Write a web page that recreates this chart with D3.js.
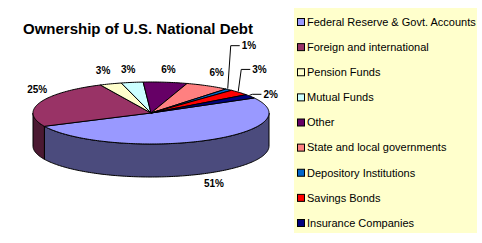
<!DOCTYPE html>
<html>
<head>
<meta charset="utf-8">
<script src="https://cdn.jsdelivr.net/npm/d3@7"></script>
<style>
  body { margin: 0; background: #ffffff; }
  text { font-family: Arial, "Liberation Sans", sans-serif; }
</style>
</head>
<body>
<div id="chart"></div>
<script>
// Ownership of U.S. National Debt - 3D pie like the Excel original

var categories = ["Federal Reserve & Govt. Accounts", "Foreign and international", "Pension Funds",
    "Mutual Funds", "Other", "State and local governments", "Depository Institutions",
    "Savings Bonds", "Insurance Companies"];
var shares = [51, 25, 3, 3, 6, 6, 1, 3, 2];
var colors = ["#9999FF", "#993366", "#FFFFCC", "#CCFFFF", "#660066", "#FF8080", "#0066CC", "#FF0000", "#000080"];

var svgWidth = 482;
var svgHeight = 243;

var svg = d3.select("#chart")
    .append("svg")
    .attr("width", svgWidth)
    .attr("height", svgHeight);

// pie geometry
var cx = 151, cy = 113, rx = 118, ry = 31, depth = 33;
var rotation = 61 * Math.PI / 180;

var pie = d3.pie()
    .sort(null)
    .value(d => d)
    .startAngle(rotation)
    .endAngle(rotation + 2 * Math.PI);

var arcs = pie(shares);
arcs.forEach((a, i) => { a.name = categories[i]; a.color = colors[i]; });

// point on the ellipse, angle clockwise from 12 o'clock
function px(a) { return cx + rx * Math.sin(a); }
function py(a, dy) { return cy - ry * Math.cos(a) + (dy || 0); }

function arcPoints(a0, a1, dy) {
    var n = Math.max(2, Math.ceil(Math.abs(a1 - a0) / 0.02));
    return d3.range(n + 1).map(k => {
        var a = a0 + (a1 - a0) * k / n;
        return [px(a), py(a, dy)];
    });
}

var line = d3.line();

// side walls (only the front half is visible, PI/2 .. 3PI/2)
var sides = svg.append("g");
arcs.forEach(function (d) {
    for (var off = 0; off <= 2 * Math.PI; off += 2 * Math.PI) {
        var a0 = Math.max(d.startAngle, Math.PI / 2 + off);
        var a1 = Math.min(d.endAngle, 3 * Math.PI / 2 + off);
        if (a1 <= a0) continue;
        var top = arcPoints(a0, a1, 0);
        var bottom = arcPoints(a1, a0, depth);
        sides.append("path")
            .attr("d", line(top.concat(bottom)) + "Z")
            .attr("fill", d3.rgb(d.color).darker(2))
            .attr("stroke", "#000")
            .attr("stroke-width", 1)
            .attr("stroke-linejoin", "round");
    }
});

// top faces
svg.append("g")
    .selectAll("path")
    .data(arcs)
    .enter()
    .append("path")
    .attr("d", d => line([[cx, cy]].concat(arcPoints(d.startAngle, d.endAngle, 0))) + "Z")
    .attr("fill", d => d.color)
    .attr("stroke", "#000")
    .attr("stroke-width", 1)
    .attr("stroke-linejoin", "round");

// percent labels
var labels = svg.append("g")
    .attr("font-size", "10px")
    .attr("font-weight", "bold")
    .attr("fill", "#000");

// small slices on the crowded right side get leader lines
var leaders = arcs.filter(d => {
    var mid = (d.startAngle + d.endAngle) / 2 % (2 * Math.PI);
    return d.value <= 3 && mid > Math.PI / 6 && mid < Math.PI / 2;
});

arcs.forEach(function (d) {
    var mid = (d.startAngle + d.endAngle) / 2;
    var ex = px(mid), ey = py(mid);
    if (leaders.indexOf(d) >= 0) {
        var k = leaders.length - 1 - leaders.indexOf(d);
        var ly = ey - 21 * k - 2;
        labels.append("path")
            .attr("d", line([[ex - 1, ey - 1], [ex + 2, ly], [ex + 11, ly]]))
            .attr("fill", "none")
            .attr("stroke", "#000")
            .attr("stroke-width", 1);
        labels.append("text")
            .attr("x", ex + 13)
            .attr("y", ly)
            .attr("dy", "0.35em")
            .text(d.value + "%");
        return;
    }
    var s = Math.sin(mid), c = Math.cos(mid);
    var front = c < 0;
    labels.append("text")
        .attr("x", ex + 25 * s * c * c)
        .attr("y", front ? ey + depth + 10 : ey - 13)
        .attr("dy", "0.35em")
        .attr("text-anchor", "middle")
        .text(d.value + "%");
});

// title
svg.append("text")
    .attr("x", 138)
    .attr("y", 34)
    .attr("text-anchor", "middle")
    .attr("font-size", "15px")
    .attr("font-weight", "bold")
    .text("Ownership of U.S. National Debt");

// legend
var legend = svg.append("g");
legend.append("rect")
    .attr("x", 294)
    .attr("y", 8)
    .attr("width", 183)
    .attr("height", 225)
    .attr("fill", "#FFFFCC");

var legendScale = d3.scalePoint()
    .domain(categories)
    .range([22, 223]);

var items = legend.selectAll("g.item")
    .data(categories)
    .enter()
    .append("g")
    .attr("class", "item")
    .attr("transform", d => `translate(297, ${legendScale(d)})`);

items.append("rect")
    .attr("x", 0.5)
    .attr("y", -3.5)
    .attr("width", 7)
    .attr("height", 7)
    .attr("fill", (d, i) => colors[i])
    .attr("stroke", "#000");

items.append("text")
    .attr("x", 10)
    .attr("y", 0)
    .attr("dy", "0.35em")
    .attr("font-size", "11px")
    .text(d => d);
</script>
</body>
</html>
